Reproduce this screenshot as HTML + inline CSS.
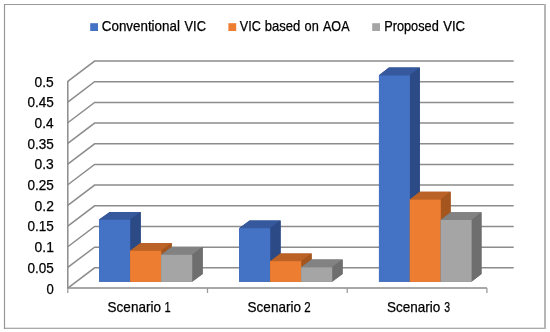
<!DOCTYPE html>
<html lang="en"><head><meta charset="utf-8"><title>VIC comparison chart</title>
<style>html,body{margin:0;padding:0;background:#fff;}body{width:550px;height:332px;overflow:hidden;}svg{display:block;}</style>
</head><body>
<svg width="550" height="332" viewBox="0 0 550 332">
<rect x="0" y="0" width="550" height="332" fill="#ffffff"/>
<path d="M4.5 328.8V4.5H545.9" fill="none" stroke="#989898" stroke-width="1.2"/>
<line x1="3.9" y1="328.25" x2="545.9" y2="328.25" stroke="#8e8e8e" stroke-width="1.15"/>
<line x1="545" y1="3.9" x2="545" y2="328.8" stroke="#b6b6b6" stroke-width="2"/>
<path d="M67.80 288.10L94.60 267.80H513.70M67.80 267.43L94.60 247.13H513.70M67.80 246.76L94.60 226.46H513.70M67.80 226.09L94.60 205.79H513.70M67.80 205.42L94.60 185.12H513.70M67.80 184.75L94.60 164.45H513.70M67.80 164.08L94.60 143.78H513.70M67.80 143.41L94.60 123.11H513.70M67.80 122.74L94.60 102.44H513.70M67.80 102.07L94.60 81.77H513.70M67.80 81.40L94.60 61.10H513.70" fill="none" stroke="#8c8c8c" stroke-width="1.5"/>
<path d="M67.80 81.00V288.80M67.80 288.10H486.90" fill="none" stroke="#8c8c8c" stroke-width="1.5"/>
<path d="M67.80 288.10v4.8M207.50 288.10v4.8M347.20 288.10v4.8M486.90 288.10v4.8" fill="none" stroke="#999999" stroke-width="1.25"/>
<path d="M99.10 281.80V219.58l10.6 -7.7h31.0V274.10l-10.6 7.7z" fill="#2c4a85"/>
<path d="M99.10 219.58l10.6 -7.7h31.0l-10.6 7.7z" fill="#35599c"/>
<path d="M130.10 219.58l10.6 -7.7V274.10l-10.6 7.7z" fill="#2c4a85"/>
<rect x="99.10" y="219.58" width="31.15" height="62.22" fill="#4472c4"/>
<path d="M130.10 281.80V250.71l10.6 -7.7h31.0V274.10l-10.6 7.7z" fill="#a5561f"/>
<path d="M130.10 250.71l10.6 -7.7h31.0l-10.6 7.7z" fill="#bb6226"/>
<path d="M161.10 250.71l10.6 -7.7V274.10l-10.6 7.7z" fill="#a5561f"/>
<rect x="130.10" y="250.71" width="31.15" height="31.09" fill="#ed7d31"/>
<path d="M161.10 281.80V254.72l10.6 -7.7h31.0V274.10l-10.6 7.7z" fill="#6e6e6e"/>
<path d="M161.10 254.72l10.6 -7.7h31.0l-10.6 7.7z" fill="#828282"/>
<path d="M192.10 254.72l10.6 -7.7V274.10l-10.6 7.7z" fill="#6e6e6e"/>
<rect x="161.10" y="254.72" width="31.15" height="27.08" fill="#a5a5a5"/>
<path d="M239.10 281.80V228.14l10.5 -7.7h31.0V274.10l-10.5 7.7z" fill="#2c4a85"/>
<path d="M239.10 228.14l10.5 -7.7h31.0l-10.5 7.7z" fill="#35599c"/>
<path d="M270.10 228.14l10.5 -7.7V274.10l-10.5 7.7z" fill="#2c4a85"/>
<rect x="239.10" y="228.14" width="31.15" height="53.66" fill="#4472c4"/>
<path d="M270.10 281.80V261.13l10.5 -7.7h31.0V274.10l-10.5 7.7z" fill="#a5561f"/>
<path d="M270.10 261.13l10.5 -7.7h31.0l-10.5 7.7z" fill="#bb6226"/>
<path d="M301.10 261.13l10.5 -7.7V274.10l-10.5 7.7z" fill="#a5561f"/>
<rect x="270.10" y="261.13" width="31.15" height="20.67" fill="#ed7d31"/>
<path d="M301.10 281.80V267.25l10.5 -7.7h31.0V274.10l-10.5 7.7z" fill="#6e6e6e"/>
<path d="M301.10 267.25l10.5 -7.7h31.0l-10.5 7.7z" fill="#828282"/>
<path d="M332.10 267.25l10.5 -7.7V274.10l-10.5 7.7z" fill="#6e6e6e"/>
<rect x="301.10" y="267.25" width="31.15" height="14.55" fill="#a5a5a5"/>
<path d="M378.95 281.80V75.31l10.0 -7.7h30.85V274.10l-10.0 7.7z" fill="#2c4a85"/>
<path d="M378.95 75.31l10.0 -7.7h30.85l-10.0 7.7z" fill="#35599c"/>
<path d="M409.80 75.31l10.0 -7.7V274.10l-10.0 7.7z" fill="#2c4a85"/>
<rect x="378.95" y="75.31" width="31.00" height="206.49" fill="#4472c4"/>
<path d="M409.80 281.80V199.53l10.0 -7.7h30.85V274.10l-10.0 7.7z" fill="#a5561f"/>
<path d="M409.80 199.53l10.0 -7.7h30.85l-10.0 7.7z" fill="#bb6226"/>
<path d="M440.65 199.53l10.0 -7.7V274.10l-10.0 7.7z" fill="#a5561f"/>
<rect x="409.80" y="199.53" width="31.00" height="82.27" fill="#ed7d31"/>
<path d="M440.65 281.80V220.00l10.0 -7.7h30.85V274.10l-10.0 7.7z" fill="#6e6e6e"/>
<path d="M440.65 220.00l10.0 -7.7h30.85l-10.0 7.7z" fill="#828282"/>
<path d="M471.50 220.00l10.0 -7.7V274.10l-10.0 7.7z" fill="#6e6e6e"/>
<rect x="440.65" y="220.00" width="31.00" height="61.80" fill="#a5a5a5"/>
<rect x="90.2" y="23.2" width="7.8" height="7.8" fill="#4472c4"/>
<text y="31.20" font-family="'Liberation Sans', sans-serif" font-size="14.1" fill="#000" stroke="#000" stroke-width="0.25"><tspan x="101.84" textLength="78.03" lengthAdjust="spacingAndGlyphs">Conventional</tspan> <tspan x="184.56" textLength="21.40" lengthAdjust="spacingAndGlyphs">VIC</tspan></text>
<rect x="228.4" y="23.2" width="7.8" height="7.8" fill="#ed7d31"/>
<text y="31.20" font-family="'Liberation Sans', sans-serif" font-size="14.1" fill="#000" stroke="#000" stroke-width="0.25"><tspan x="239.86" textLength="20.99" lengthAdjust="spacingAndGlyphs">VIC</tspan> <tspan x="264.78" textLength="35.54" lengthAdjust="spacingAndGlyphs">based</tspan> <tspan x="304.59" textLength="14.22" lengthAdjust="spacingAndGlyphs">on</tspan> <tspan x="323.00" textLength="26.50" lengthAdjust="spacingAndGlyphs">AOA</tspan></text>
<rect x="372.2" y="23.2" width="7.8" height="7.8" fill="#a5a5a5"/>
<text y="31.20" font-family="'Liberation Sans', sans-serif" font-size="14.1" fill="#000" stroke="#000" stroke-width="0.25"><tspan x="384.18" textLength="54.61" lengthAdjust="spacingAndGlyphs">Proposed</tspan> <tspan x="443.16" textLength="21.92" lengthAdjust="spacingAndGlyphs">VIC</tspan></text>
<text y="293.50" font-family="'Liberation Sans', sans-serif" font-size="14.1" fill="#000" stroke="#000" stroke-width="0.25"><tspan x="46.42" textLength="7.27" lengthAdjust="spacingAndGlyphs">0</tspan></text>
<text y="272.83" font-family="'Liberation Sans', sans-serif" font-size="14.1" fill="#000" stroke="#000" stroke-width="0.25"><tspan x="27.40" textLength="26.35" lengthAdjust="spacingAndGlyphs">0.05</tspan></text>
<text y="252.16" font-family="'Liberation Sans', sans-serif" font-size="14.1" fill="#000" stroke="#000" stroke-width="0.25"><tspan x="34.58" textLength="19.27" lengthAdjust="spacingAndGlyphs">0.1</tspan></text>
<text y="231.49" font-family="'Liberation Sans', sans-serif" font-size="14.1" fill="#000" stroke="#000" stroke-width="0.25"><tspan x="27.40" textLength="26.35" lengthAdjust="spacingAndGlyphs">0.15</tspan></text>
<text y="210.82" font-family="'Liberation Sans', sans-serif" font-size="14.1" fill="#000" stroke="#000" stroke-width="0.25"><tspan x="34.58" textLength="19.29" lengthAdjust="spacingAndGlyphs">0.2</tspan></text>
<text y="190.15" font-family="'Liberation Sans', sans-serif" font-size="14.1" fill="#000" stroke="#000" stroke-width="0.25"><tspan x="27.40" textLength="26.35" lengthAdjust="spacingAndGlyphs">0.25</tspan></text>
<text y="169.48" font-family="'Liberation Sans', sans-serif" font-size="14.1" fill="#000" stroke="#000" stroke-width="0.25"><tspan x="34.59" textLength="19.20" lengthAdjust="spacingAndGlyphs">0.3</tspan></text>
<text y="148.81" font-family="'Liberation Sans', sans-serif" font-size="14.1" fill="#000" stroke="#000" stroke-width="0.25"><tspan x="27.40" textLength="26.35" lengthAdjust="spacingAndGlyphs">0.35</tspan></text>
<text y="128.14" font-family="'Liberation Sans', sans-serif" font-size="14.1" fill="#000" stroke="#000" stroke-width="0.25"><tspan x="34.59" textLength="18.98" lengthAdjust="spacingAndGlyphs">0.4</tspan></text>
<text y="107.47" font-family="'Liberation Sans', sans-serif" font-size="14.1" fill="#000" stroke="#000" stroke-width="0.25"><tspan x="27.40" textLength="26.35" lengthAdjust="spacingAndGlyphs">0.45</tspan></text>
<text y="86.80" font-family="'Liberation Sans', sans-serif" font-size="14.1" fill="#000" stroke="#000" stroke-width="0.25"><tspan x="34.59" textLength="19.17" lengthAdjust="spacingAndGlyphs">0.5</tspan></text>
<text y="312.40" font-family="'Liberation Sans', sans-serif" font-size="14.1" fill="#000" stroke="#000" stroke-width="0.25"><tspan x="107.60" textLength="53.34" lengthAdjust="spacingAndGlyphs">Scenario</tspan> <tspan x="164.59" textLength="6.13" lengthAdjust="spacingAndGlyphs">1</tspan></text>
<text y="312.40" font-family="'Liberation Sans', sans-serif" font-size="14.1" fill="#000" stroke="#000" stroke-width="0.25"><tspan x="247.60" textLength="53.34" lengthAdjust="spacingAndGlyphs">Scenario</tspan> <tspan x="304.35" textLength="6.40" lengthAdjust="spacingAndGlyphs">2</tspan></text>
<text y="312.40" font-family="'Liberation Sans', sans-serif" font-size="14.1" fill="#000" stroke="#000" stroke-width="0.25"><tspan x="386.90" textLength="53.34" lengthAdjust="spacingAndGlyphs">Scenario</tspan> <tspan x="444.13" textLength="5.81" lengthAdjust="spacingAndGlyphs">3</tspan></text>
</svg>
</body></html>
